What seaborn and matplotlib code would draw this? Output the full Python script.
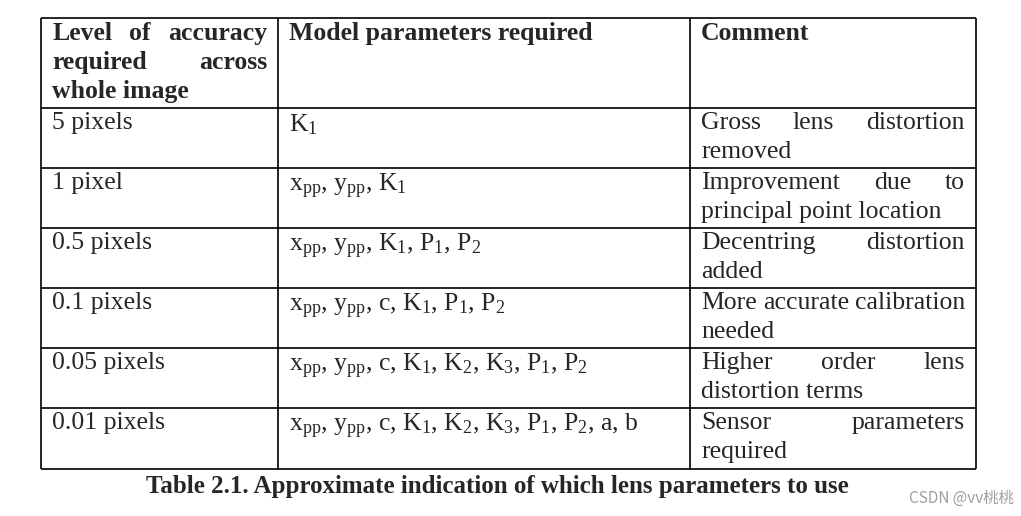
import matplotlib
matplotlib.use("Agg")
import matplotlib.pyplot as plt
import seaborn as sns

# =========================================================
# DATOS DE LA TABLA
# =========================================================
header = [
    [["Level of accuracy", True], ["required across", True], ["whole image", False]],
    [["Model parameters required", False]],
    [["Comment", False]],
]
accuracy = ["5 pixels", "1 pixel", "0.5 pixels", "0.1 pixels", "0.05 pixels", "0.01 pixels"]
params = [
    r"K$_\mathregular{1}$",
    r"x$_\mathregular{pp}$, y$_\mathregular{pp}$, K$_\mathregular{1}$",
    r"x$_\mathregular{pp}$, y$_\mathregular{pp}$, K$_\mathregular{1}$, P$_\mathregular{1}$, P$_\mathregular{2}$",
    r"x$_\mathregular{pp}$, y$_\mathregular{pp}$, c, K$_\mathregular{1}$, P$_\mathregular{1}$, P$_\mathregular{2}$",
    r"x$_\mathregular{pp}$, y$_\mathregular{pp}$, c, K$_\mathregular{1}$, K$_\mathregular{2}$, K$_\mathregular{3}$, P$_\mathregular{1}$, P$_\mathregular{2}$",
    r"x$_\mathregular{pp}$, y$_\mathregular{pp}$, c, K$_\mathregular{1}$, K$_\mathregular{2}$, K$_\mathregular{3}$, P$_\mathregular{1}$, P$_\mathregular{2}$, a, b",
]
comments = [
    [["Gross lens distortion", True], ["removed", False]],
    [["Improvement due to", True], ["principal point location", False]],
    [["Decentring distortion", True], ["added", False]],
    [["More accurate calibration", True], ["needed", False]],
    [["Higher order lens", True], ["distortion terms", False]],
    [["Sensor parameters", True], ["required", False]],
]
caption = "Table 2.1. Approximate indication of which lens parameters to use"
watermark = "CSDN @vv桃桃"

# =========================================================
# FIGURA
# =========================================================
sns.set_theme(style="white")
plt.rcParams["font.family"] = ["Liberation Serif", "DejaVu Serif"]
plt.rcParams["mathtext.fontset"] = "custom"
plt.rcParams["mathtext.rm"] = "Liberation Serif"
plt.rcParams["mathtext.it"] = "Liberation Serif:italic"

fig = plt.figure(figsize=(10.21, 5.16), dpi=100)
ax = fig.add_axes([0, 0, 1, 1])
ax.set_xlim(0, 1021)
ax.set_ylim(516, 0)
ax.axis("off")

xs = [41, 278, 690, 976]
ys = [18, 108, 168, 228, 288, 348, 408, 469]
ax.hlines(ys, xs[0], xs[-1], color="black", lw=1.2)
ax.vlines(xs, ys[0], ys[-1], color="black", lw=1.2)

pad = 11
fs = 18.5
line_h = 29
justify_jobs = []


def cell_lines(lines, col, top, bold=False):
    x0 = xs[col] + pad
    x1 = xs[col + 1] - pad
    for i, (txt, just) in enumerate(lines):
        y = top + 4 + i * line_h
        w = "bold" if bold else "normal"
        if just:
            words = [ax.text(x0, y, wd, fontsize=fs, fontweight=w, va="top")
                     for wd in txt.split()]
            justify_jobs.append((words, x0, x1))
        else:
            ax.text(x0, y, txt, fontsize=fs, fontweight=w, va="top")


for c, lines in enumerate(header):
    cell_lines(lines, c, ys[0], bold=True)

for r in range(len(accuracy)):
    top = ys[r + 1]
    cell_lines([[accuracy[r], False]], 0, top)
    cell_lines([[params[r], False]], 1, top)
    cell_lines(comments[r], 2, top)

# justificado del texto
fig.canvas.draw()
rend = fig.canvas.get_renderer()
for words, x0, x1 in justify_jobs:
    widths = [t.get_window_extent(rend).width for t in words]
    gap = (x1 - x0 - sum(widths)) / max(len(words) - 1, 1)
    x = x0
    for t, wdt in zip(words, widths):
        t.set_x(x)
        x += wdt + gap

ax.text(497, 486, caption, fontsize=18, fontweight="bold", ha="center", va="center")
ax.text(1014, 498, watermark, fontsize=11, color="#a0a0a0", ha="right", va="center",
        family=["Noto Sans CJK SC", "DejaVu Sans"])

fig.savefig("out.png", dpi=100)
